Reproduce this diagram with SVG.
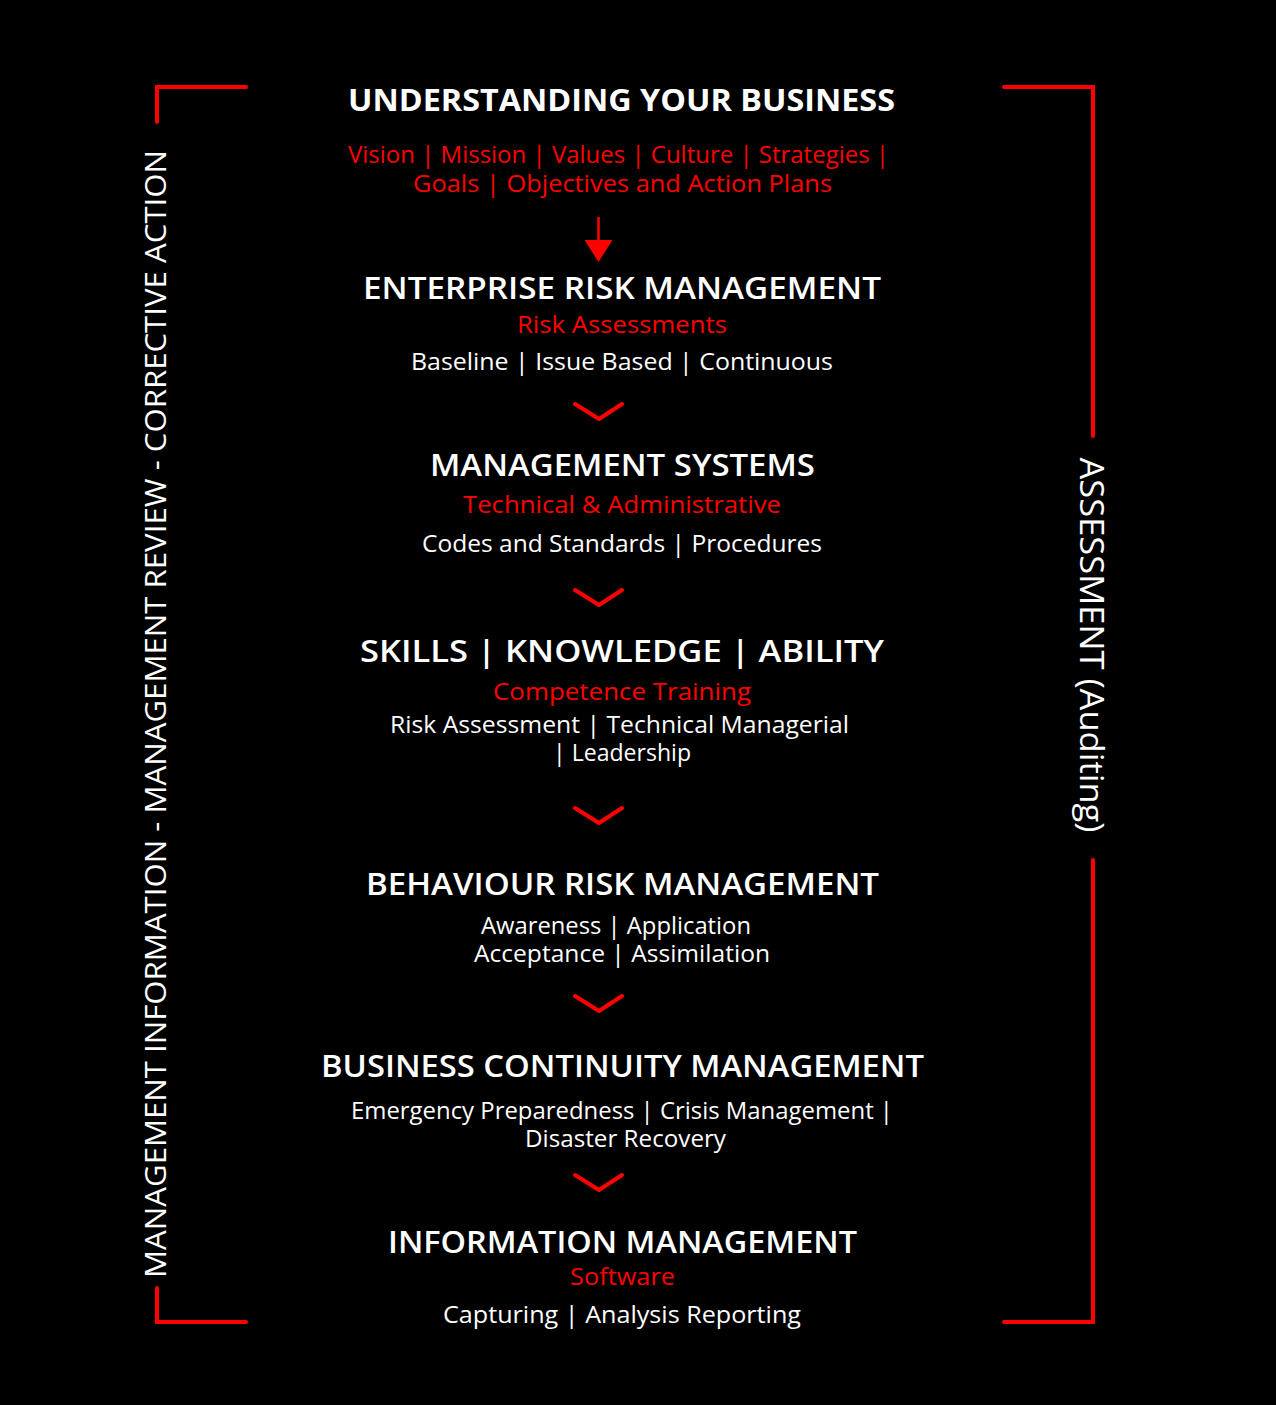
<svg xmlns="http://www.w3.org/2000/svg" width="1276" height="1405" viewBox="0 0 1276 1405">
<style>
text{font-family:"Open Sans","Liberation Sans",sans-serif;text-anchor:middle}
.h{fill:#fff;font-size:30px;font-weight:600}
.hb{fill:#fff;font-size:30px;font-weight:700}
.r{fill:#ff0000;font-size:24px;font-weight:400}
.w{fill:#fff;font-size:23px;font-weight:400}
.v{fill:#fff;font-size:30px;font-weight:500}
.br{fill:none;stroke:#ff0000;stroke-width:4;stroke-linecap:round;stroke-linejoin:miter}
.ch{fill:none;stroke:#ff0000;stroke-width:4;stroke-linecap:round;stroke-linejoin:round}
</style>
<rect width="1276" height="1405" fill="#000"/>
<g id="left-bracket">
<path class="br" d="M157 122 V87 H246"/>
<path class="br" d="M157 1288 V1322 H246"/>
<text class="v" transform="translate(166 714) rotate(-90)" textLength="1128" lengthAdjust="spacingAndGlyphs">MANAGEMENT INFORMATION - MANAGEMENT REVIEW - CORRECTIVE ACTION</text>
</g>
<g id="right-bracket">
<path class="br" d="M1004 87 H1093 V436"/>
<path class="br" d="M1093 860 V1322 H1004"/>
<text class="v" style="font-size:33px" transform="translate(1080 645) rotate(90)" textLength="375" lengthAdjust="spacingAndGlyphs">ASSESSMENT (Auditing)</text>
</g>
<g id="node-understanding">
<text class="hb" x="621.5" y="111" textLength="547" lengthAdjust="spacingAndGlyphs">UNDERSTANDING YOUR BUSINESS</text>
<text class="r" x="618.5" y="163" textLength="541" lengthAdjust="spacingAndGlyphs">Vision | Mission | Values | Culture | Strategies |</text>
<text class="r" x="622.5" y="192" textLength="419" lengthAdjust="spacingAndGlyphs">Goals | Objectives and Action Plans</text>
</g>
<g id="node-erm">
<text class="h" x="622" y="299" textLength="518" lengthAdjust="spacingAndGlyphs">ENTERPRISE RISK MANAGEMENT</text>
<text class="r" x="622" y="333" textLength="210" lengthAdjust="spacingAndGlyphs">Risk Assessments</text>
<text class="w" x="622" y="370" textLength="422" lengthAdjust="spacingAndGlyphs">Baseline  |  Issue Based  |  Continuous</text>
</g>
<g id="node-ms">
<text class="h" x="622.5" y="476" textLength="385" lengthAdjust="spacingAndGlyphs">MANAGEMENT SYSTEMS</text>
<text class="r" x="622" y="513" textLength="318" lengthAdjust="spacingAndGlyphs">Technical &amp; Administrative</text>
<text class="w" x="622" y="552" textLength="400" lengthAdjust="spacingAndGlyphs">Codes and Standards  |  Procedures</text>
</g>
<g id="node-ska">
<text class="h" x="622" y="662" textLength="524" lengthAdjust="spacingAndGlyphs">SKILLS  |  KNOWLEDGE  |  ABILITY</text>
<text class="r" x="622" y="700" textLength="258" lengthAdjust="spacingAndGlyphs">Competence Training</text>
<text class="w" x="619.5" y="733" textLength="459" lengthAdjust="spacingAndGlyphs">Risk Assessment  |  Technical Managerial</text>
<text class="w" x="622" y="761" textLength="138" lengthAdjust="spacingAndGlyphs">| Leadership</text>
</g>
<g id="node-brm">
<text class="h" x="622.5" y="895" textLength="513" lengthAdjust="spacingAndGlyphs">BEHAVIOUR RISK MANAGEMENT</text>
<text class="w" x="616" y="934" textLength="270" lengthAdjust="spacingAndGlyphs">Awareness | Application</text>
<text class="w" x="622" y="962" textLength="296" lengthAdjust="spacingAndGlyphs">Acceptance  | Assimilation</text>
</g>
<g id="node-bcm">
<text class="h" x="622.5" y="1077" textLength="603" lengthAdjust="spacingAndGlyphs">BUSINESS CONTINUITY MANAGEMENT</text>
<text class="w" x="622" y="1119" textLength="542" lengthAdjust="spacingAndGlyphs">Emergency Preparedness | Crisis Management |</text>
<text class="w" x="625.5" y="1147" textLength="201" lengthAdjust="spacingAndGlyphs">Disaster Recovery</text>
</g>
<g id="node-im">
<text class="h" x="622.5" y="1253" textLength="469" lengthAdjust="spacingAndGlyphs">INFORMATION MANAGEMENT</text>
<text class="r" x="622.5" y="1285" textLength="105" lengthAdjust="spacingAndGlyphs">Software</text>
<text class="w" x="622" y="1323" textLength="358" lengthAdjust="spacingAndGlyphs">Capturing  |  Analysis Reporting</text>
</g>
<g id="connectors">
<line x1="598.5" y1="217" x2="598.5" y2="242" stroke="#ff0000" stroke-width="2.5"/>
<polygon points="584.5,240 612.5,240 598.5,262" fill="#ff0000"/>
<polyline class="ch" points="575,404 599,419 622,404"/>
<polyline class="ch" points="575,590 599,605 622,590"/>
<polyline class="ch" points="575,808 599,823 622,808"/>
<polyline class="ch" points="575,996 599,1011 622,996"/>
<polyline class="ch" points="575,1175 599,1190 622,1175"/>
</g>
</svg>
